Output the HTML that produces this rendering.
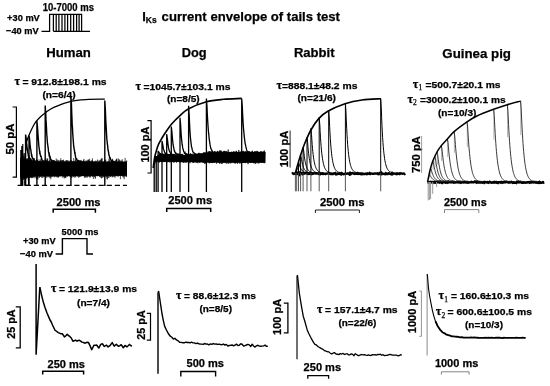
<!DOCTYPE html>
<html><head><meta charset="utf-8"><title>IKs current envelope of tails test</title>
<style>html,body{margin:0;padding:0;background:#fff}svg{display:block}text{font-family:"Liberation Sans",Arial,sans-serif;font-weight:bold;fill:#000}text.ts{font-family:"Liberation Serif","DejaVu Serif",serif;font-weight:bold}text{stroke:#000;stroke-width:0.25px}text.tn{font-family:"Liberation Serif","DejaVu Serif",serif;font-weight:normal}</style>
</head><body>
<svg width="550" height="386" viewBox="0 0 550 386">
<rect width="550" height="386" fill="#fff"/>
<text x="42.7" y="10.9" font-size="10.5" textLength="51.3" lengthAdjust="spacingAndGlyphs" >10-7000 ms</text>
<text x="7.1" y="20.9" font-size="9.6" textLength="32.7" lengthAdjust="spacingAndGlyphs" >+30 mV</text>
<text x="6.0" y="33.5" font-size="9.6" textLength="32.7" lengthAdjust="spacingAndGlyphs" >−40 mV</text>
<path d="M41.5,31.3 H49.6 V14.4 H81.6 V31.3 H90 M53.4,31.3 H81.6 M53.4,14.4 V31.3 M56.2,14.4 V31.3 M58.9,14.4 V31.3 M62,14.4 V31.3 M64.9,14.4 V31.3 M67.6,14.4 V31.3 M70.7,14.4 V31.3 M73.6,14.4 V31.3 M76.6,14.4 V31.3 M79.1,14.4 V31.3" fill="none" stroke="#000" stroke-width="1.25" />
<text x="142.2" y="20.6" font-size="12.8" >I</text>
<text x="145.8" y="23.2" font-size="8.3" textLength="10.8" lengthAdjust="spacingAndGlyphs" >Ks</text>
<text x="161.6" y="20.6" font-size="12.8" textLength="178.4" lengthAdjust="spacingAndGlyphs" >current envelope of tails test</text>
<text x="46.3" y="56.7" font-size="13.2" textLength="44.6" lengthAdjust="spacingAndGlyphs" >Human</text>
<text x="181.8" y="57.4" font-size="13" textLength="24.9" lengthAdjust="spacingAndGlyphs" >Dog</text>
<text x="293.9" y="57.4" font-size="13" textLength="40.7" lengthAdjust="spacingAndGlyphs" >Rabbit</text>
<text x="442.3" y="57.6" font-size="13.2" textLength="68.7" lengthAdjust="spacingAndGlyphs" >Guinea pig</text>
<text x="14.4" y="85.0" font-size="12" class="ts">τ</text>
<text x="22.4" y="85.0" font-size="9.6" textLength="84.2" lengthAdjust="spacingAndGlyphs" >= 912.8±198.1 ms</text>
<text x="42.4" y="98.0" font-size="9.6" textLength="33.2" lengthAdjust="spacingAndGlyphs" >(n=6/4)</text>
<path d="M12.6,107 H16.4 V177.2 H12.6" fill="none" stroke="#000" stroke-width="1.2" />
<text transform="translate(14.0,154.6) rotate(-90)" font-size="11" textLength="31.0" lengthAdjust="spacingAndGlyphs" >50 pA</text>
<path d="M20.50,161.04 L20.83,176.82 L21.25,159.43 L21.58,176.73 L22.01,161.07 L22.50,176.76 L22.97,157.63 L23.36,177.97 L23.71,160.65 L24.18,178.03 L24.59,160.63 L25.09,176.39 L25.49,160.37 L26.02,176.85 L26.40,160.23 L26.92,176.83 L27.50,160.56 L27.85,176.98 L28.18,160.50 L28.73,177.77 L29.23,160.24 L29.77,177.01 L30.22,161.18 L30.71,176.56 L31.24,161.15 L31.56,177.23 L31.92,161.11 L32.27,176.48 L32.69,161.09 L33.16,176.54 L33.69,160.85 L34.11,176.86 L34.68,161.02 L35.06,176.75 L35.53,161.39 L35.95,176.32 L36.52,160.96 L37.02,178.89 L37.54,160.13 L37.96,177.51 L38.45,161.07 L38.81,176.36 L39.14,160.84 L39.55,177.70 L40.03,160.97 L40.45,176.83 L40.99,160.29 L41.33,176.25 L41.74,161.26 L42.06,178.11 L42.51,159.77 L43.09,177.21 L43.60,161.38 L44.12,177.16 L44.65,161.11 L45.23,176.82 L45.76,160.77 L46.21,177.70 L46.54,160.66 L47.04,176.32 L47.47,158.68 L47.89,177.34 L48.26,161.26 L48.82,176.82 L49.27,160.44 L49.76,177.66 L50.29,161.49 L50.81,177.32 L51.35,160.49 L51.92,176.33 L52.28,161.10 L52.81,176.57 L53.35,160.03 L53.81,176.33 L54.13,160.07 L54.70,176.41 L55.25,161.21 L55.64,176.76 L56.11,161.47 L56.68,177.19 L57.11,159.63 L57.68,177.23 L58.14,161.35 L58.50,177.51 L58.86,159.94 L59.26,176.39 L59.73,161.45 L60.11,176.59 L60.64,160.26 L61.20,176.17 L61.68,160.35 L62.11,176.15 L62.56,160.10 L63.13,176.67 L63.59,159.75 L63.94,176.78 L64.28,161.56 L64.80,176.49 L65.16,161.28 L65.71,177.55 L66.09,160.62 L66.67,176.39 L67.03,160.49 L67.40,176.59 L67.91,160.33 L68.23,176.23 L68.71,161.25 L69.24,176.10 L69.58,161.59 L69.97,176.36 L70.40,160.03 L70.75,177.06 L71.22,160.33 L71.65,178.08 L72.14,161.50 L72.47,176.46 L72.91,160.96 L73.30,177.15 L73.75,161.61 L74.08,176.54 L74.48,161.07 L74.93,177.66 L75.34,159.64 L75.80,176.13 L76.25,161.22 L76.68,176.23 L77.22,160.72 L77.80,176.79 L78.34,161.29 L78.75,177.64 L79.08,161.64 L79.42,176.81 L79.97,161.29 L80.36,176.75 L80.72,160.94 L81.30,176.28 L81.68,160.84 L81.99,176.20 L82.44,161.02 L82.75,176.02 L83.09,160.95 L83.47,176.18 L83.93,161.71 L84.48,177.49 L84.88,161.15 L85.37,177.47 L85.93,160.57 L86.28,177.18 L86.73,160.80 L87.21,177.57 L87.70,161.26 L88.12,176.67 L88.66,160.41 L89.16,176.49 L89.47,161.25 L89.93,177.59 L90.27,161.24 L90.78,176.75 L91.29,160.59 L91.74,176.15 L92.26,160.44 L92.64,176.94 L93.04,161.17 L93.54,176.02 L94.03,161.47 L94.47,177.14 L95.03,160.91 L95.35,178.63 L95.89,160.70 L96.26,176.17 L96.63,161.31 L97.20,176.22 L97.74,159.68 L98.12,176.05 L98.56,161.73 L99.00,175.94 L99.35,161.32 L99.67,176.67 L100.21,160.13 L100.77,177.52 L101.18,158.91 L101.60,178.25 L101.98,161.38 L102.38,176.06 L102.76,161.72 L103.17,177.13 L103.73,161.30 L104.30,177.24 L104.81,160.28 L105.32,176.41 L105.72,159.64 L106.16,176.60 L106.56,161.67 L107.05,178.68 L107.51,161.39 L107.88,176.27 L108.33,161.46 L108.77,178.07 L109.14,161.10 L109.52,176.39 L109.98,160.60 L110.41,176.98 L110.83,161.70 L111.40,176.18 L111.86,160.51 L112.24,177.35 L112.67,159.52 L113.22,176.76 L113.72,161.00 L114.04,176.56 L114.60,161.00 L114.99,177.64 L115.34,160.39 L115.85,176.07 L116.37,159.35 L116.75,176.19 L117.24,161.76 L117.73,176.35 L118.07,160.82 L118.49,176.37 L118.97,161.08 L119.54,175.89 L120.10,161.22 L120.67,175.95 L121.07,160.77 L121.50,175.99 L121.99,160.74 L122.42,176.15 L122.79,161.49 L123.16,177.42 L123.56,161.66 L124.08,176.48 L124.65,161.33 L125.08,175.83 L125.65,161.37 L126.23,176.61 L126.56,161.05" fill="none" stroke="#000" stroke-width="0.6" />
<polygon points="20.5,161.3 127.0,162.0 127.0,175.8 20.5,176.3" fill="#000"/>
<path d="M20.50,157.42 L21.08,179.68 L21.65,157.68 L21.98,179.06 L22.38,157.11 L22.70,178.44 L23.04,157.14 L23.42,179.87 L23.85,155.24 L24.26,178.84 L24.82,157.40 L25.35,177.99 L25.92,158.76 L26.43,178.76 L27.01,158.60 L27.39,177.76 L27.71,158.27 L28.27,180.45 L28.72,157.04 L29.29,178.10 L29.74,159.28 L30.10,177.91 L30.62,157.83 L31.03,177.57 L31.36,159.07 L31.88,178.26 L32.29,160.05 L32.84,177.89 L33.18,160.72 L33.69,177.62" fill="none" stroke="#000" stroke-width="0.6" />
<polygon points="20.5,158.0 34.0,161.0 34.0,176.5 20.5,178.5" fill="#000"/>
<path d="M93.4,175.3 V179.0 M92.4,162.0 V158.3 M54.3,175.3 V177.5 M100.0,162.0 V160.2 M49.3,162.0 V158.2 M83.6,162.0 V159.7 M126.2,175.3 V177.0 M107.3,175.3 V179.5 M34.5,162.0 V158.4 M110.6,175.3 V176.4 M54.2,162.0 V160.4 M124.2,175.3 V179.3 M62.3,175.3 V177.7 M50.8,175.3 V179.3 M34.9,175.3 V178.3 M46.4,162.0 V160.5 M45.0,162.0 V159.1 M91.1,162.0 V161.0 M57.7,175.3 V176.9 M56.2,162.0 V158.5 M80.4,162.0 V160.7 M64.7,175.3 V178.3 M33.4,162.0 V158.8 M66.2,162.0 V160.0 M122.2,162.0 V159.2 M60.8,162.0 V158.2 M126.7,162.0 V160.4 M99.0,162.0 V161.0 M116.9,162.0 V158.4 M65.8,175.3 V177.8 M40.7,162.0 V159.2 M90.0,175.3 V176.6 M88.1,162.0 V159.4 M39.0,162.0 V159.3 M119.3,162.0 V159.4 M106.9,175.3 V176.9 M37.0,175.3 V179.4 M73.7,162.0 V158.0 M64.0,175.3 V178.3 M108.9,162.0 V158.5 M46.9,162.0 V158.3 M109.4,162.0 V160.3 M65.2,175.3 V177.5 M36.7,162.0 V158.7 M116.4,162.0 V159.2 M102.0,162.0 V158.3 M36.1,175.3 V178.1 M88.6,162.0 V159.7 M84.0,162.0 V158.9 M70.0,162.0 V160.9 M87.7,162.0 V160.2 M102.6,175.3 V177.8 M42.5,162.0 V160.7 M37.2,162.0 V160.7 M69.5,175.3 V176.4 M89.6,162.0 V158.7 M104.1,175.3 V176.5 M75.9,162.0 V158.0 M38.0,175.3 V179.5 M99.4,175.3 V176.9 M125.1,162.0 V157.9 M118.4,162.0 V158.5 M119.9,162.0 V159.9 M101.9,162.0 V158.1 M52.3,175.3 V176.8 M75.7,175.3 V177.0 M51.1,175.3 V177.3 M27.8,162.0 V160.5 M120.4,175.3 V179.2 M41.4,175.3 V176.7 " fill="none" stroke="#000" stroke-width="0.7" />
<path d="M17.6,185.3 H127" fill="none" stroke="#000" stroke-width="1.2" stroke-dasharray="5.2,2.9"/>
<path d="M25.60,186.00 L25.60,134.50 L26.15,138.18 L26.40,140.12 L26.65,143.60 L26.90,145.26 L27.15,149.34 L27.40,149.19 L27.65,151.34 L27.90,153.30 L28.15,154.06 L28.40,156.34 L28.65,156.25 L28.90,156.14 L29.15,158.62 L29.40,158.29 L29.65,161.17 L29.90,158.94 L30.15,159.65 L30.40,160.40 L30.65,159.91 L30.90,161.46 L31.15,162.24 L31.40,162.66 L31.65,162.01 L31.90,161.77 L32.15,162.94 L32.40,162.99 L32.65,162.09 L32.90,161.97 L33.15,161.85 L33.40,162.63 L33.65,162.52 L33.90,163.15 L34.15,163.41 L34.40,161.91 L34.65,163.06 L34.90,163.05 L35.15,162.55 L35.40,162.95 L35.65,163.84 L35.90,162.90" fill="none" stroke="#000" stroke-width="1.4" />
<path d="M29.00,186.00 L29.00,135.50 L29.55,138.90 L29.80,141.66 L30.05,144.73 L30.30,146.44 L30.55,149.15 L30.80,149.70 L31.05,151.58 L31.30,153.68 L31.55,155.52 L31.80,155.25 L32.05,156.59 L32.30,157.81 L32.55,157.83 L32.80,158.83 L33.05,159.43 L33.30,158.73 L33.55,158.98 L33.80,160.57 L34.05,160.05 L34.30,161.01 L34.55,161.37 L34.80,160.93 L35.05,160.96 L35.30,161.24 L35.55,162.79 L35.80,160.56 L36.05,162.78 L36.30,162.25 L36.55,161.87 L36.80,162.64 L37.05,162.41 L37.30,161.89 L37.55,162.50 L37.80,162.71 L38.05,162.97 L38.30,162.78 L38.55,162.68 L38.80,161.23 L39.05,162.31 L39.30,163.15" fill="none" stroke="#000" stroke-width="1.4" />
<path d="M36.90,186.00 L36.90,121.00 L37.45,126.54 L37.70,130.07 L37.95,134.18 L38.20,137.38 L38.45,140.25 L38.70,144.20 L38.95,146.82 L39.20,148.27 L39.45,150.36 L39.70,152.67 L39.95,152.34 L40.20,154.32 L40.45,155.33 L40.70,156.99 L40.95,156.20 L41.20,156.76 L41.45,158.76 L41.70,158.59 L41.95,159.70 L42.20,160.38 L42.45,160.66 L42.70,161.29 L42.95,161.12 L43.20,161.21 L43.45,160.36 L43.70,162.25 L43.95,160.88 L44.20,161.86 L44.45,162.96 L44.70,161.05 L44.95,162.77 L45.20,161.83 L45.45,162.37 L45.70,161.38 L45.95,161.17 L46.20,162.93 L46.45,164.09 L46.70,163.26 L46.95,162.80 L47.20,162.88" fill="none" stroke="#000" stroke-width="1.4" />
<path d="M45.20,186.00 L45.20,105.50 L45.75,113.74 L46.00,119.89 L46.25,123.86 L46.50,128.36 L46.75,134.50 L47.00,136.64 L47.25,140.57 L47.50,143.76 L47.75,144.86 L48.00,147.21 L48.25,148.51 L48.50,151.93 L48.75,152.50 L49.00,154.47 L49.25,154.10 L49.50,156.47 L49.75,156.27 L50.00,157.47 L50.25,157.38 L50.50,158.69 L50.75,159.82 L51.00,159.62 L51.25,160.02 L51.50,160.89 L51.75,160.65 L52.00,161.45 L52.25,161.41 L52.50,162.14 L52.75,161.46 L53.00,162.00 L53.25,162.16 L53.50,163.19 L53.75,162.53 L54.00,161.62 L54.25,161.62 L54.50,162.47 L54.75,162.30 L55.00,162.05 L55.25,162.30 L55.50,163.24" fill="none" stroke="#000" stroke-width="1.4" />
<path d="M70.90,186.00 L70.90,96.50 L71.45,103.52 L71.70,112.09 L71.95,118.03 L72.20,124.76 L72.45,127.41 L72.70,133.12 L72.95,136.41 L73.20,139.88 L73.45,142.98 L73.70,146.49 L73.95,147.65 L74.20,149.67 L74.45,150.06 L74.70,152.91 L74.95,152.88 L75.20,154.82 L75.45,156.21 L75.70,157.74 L75.95,158.22 L76.20,158.39 L76.45,159.39 L76.70,159.19 L76.95,159.84 L77.20,160.15 L77.45,161.09 L77.70,160.68 L77.95,160.44 L78.20,160.55 L78.45,163.16 L78.70,160.35 L78.95,161.84 L79.20,161.88 L79.45,162.02 L79.70,161.60 L79.95,162.73 L80.20,162.51 L80.45,161.85 L80.70,162.31 L80.95,161.77 L81.20,162.95" fill="none" stroke="#000" stroke-width="1.4" />
<path d="M104.80,186.00 L104.80,100.50 L105.35,109.57 L105.60,116.05 L105.85,121.58 L106.10,126.09 L106.35,130.66 L106.60,134.97 L106.85,139.25 L107.10,141.25 L107.35,143.87 L107.60,145.42 L107.85,148.35 L108.10,150.24 L108.35,151.27 L108.60,152.45 L108.85,154.34 L109.10,155.65 L109.35,155.85 L109.60,157.68 L109.85,157.67 L110.10,158.74 L110.35,160.12 L110.60,159.21 L110.85,159.97 L111.10,160.15 L111.35,160.45 L111.60,161.21 L111.85,160.16 L112.10,161.66 L112.35,160.67 L112.60,161.36 L112.85,162.50 L113.10,160.91 L113.35,163.09 L113.60,163.54 L113.85,163.13 L114.10,162.92 L114.35,162.59 L114.60,162.45 L114.85,164.13 L115.10,161.99" fill="none" stroke="#000" stroke-width="1.4" />
<path d="M20.8,150 V186 M21.8,146 V186 M22.8,144 V186 M24.2,153 V178" fill="none" stroke="#000" stroke-width="1.1" />
<path d="M24.7,176 V185.3 H28.6 V176" fill="none" stroke="#000" stroke-width="1.1" />
<path d="M26.6,141.5 C27.1,140.2 28.3,136.6 29.6,133.7 C30.9,130.8 32.8,126.7 34.4,124.0 C36.0,121.3 37.7,119.6 39.5,117.8 C41.3,116.0 42.7,114.8 45.1,113.0 C47.5,111.2 49.5,109.2 53.8,107.3 C58.1,105.3 65.1,102.6 70.9,101.3 C76.7,100.0 83.2,99.8 88.8,99.4 C94.4,99.1 102.1,99.2 104.8,99.2" fill="none" stroke="#000" stroke-width="1.3" />
<text x="56.5" y="205.7" font-size="11" textLength="44.0" lengthAdjust="spacingAndGlyphs" >2500 ms</text>
<path d="M53.2,212.8 V209.2 H95.4 V212.8" fill="none" stroke="#000" stroke-width="1.5" />
<text x="135.6" y="90.3" font-size="12" class="ts">τ</text>
<text x="143.4" y="90.3" font-size="9.6" textLength="87.2" lengthAdjust="spacingAndGlyphs" >=1045.7±103.1 ms</text>
<text x="167.0" y="102.4" font-size="9.6" textLength="32.6" lengthAdjust="spacingAndGlyphs" >(n=8/5)</text>
<path d="M147.4,120.6 H151.1 V173 H147.4" fill="none" stroke="#000" stroke-width="1.2" />
<text transform="translate(149.0,162.6) rotate(-90)" font-size="11" textLength="36.0" lengthAdjust="spacingAndGlyphs" >100 pA</text>
<path d="M154.40,156.50 L154.74,162.08 L155.20,156.34 L155.56,161.65 L156.00,156.22 L156.32,162.29 L156.63,156.14 L157.12,161.56 L157.57,156.11 L157.89,161.75 L158.29,156.11 L158.65,162.04 L158.96,155.18 L159.26,162.60 L159.72,155.46 L160.04,161.73 L160.42,155.87 L160.89,161.79 L161.28,155.81 L161.70,162.25 L162.09,155.88 L162.55,161.92 L163.04,156.14 L163.49,162.06 L163.87,155.70 L164.31,162.05 L164.76,155.97 L165.10,162.12 L165.48,156.00 L165.98,161.95 L166.35,155.58 L166.87,162.26 L167.33,156.06 L167.74,162.19 L168.19,155.81 L168.62,161.98 L169.13,155.65 L169.58,162.35 L170.09,155.63 L170.38,162.13 L170.77,155.64 L171.13,161.76 L171.64,155.76 L171.97,161.90 L172.28,155.63 L172.75,162.11 L173.09,155.66 L173.45,162.34 L173.85,155.37 L174.26,162.42 L174.74,155.39 L175.11,161.80 L175.39,155.51 L175.74,161.81" fill="none" stroke="#000" stroke-width="0.7" />
<polygon points="154.4,156.5 176.0,156.0 176.0,161.8 154.4,161.5" fill="#000"/>
<path d="M176.00,155.54 L176.44,162.61 L176.73,155.00 L177.23,161.88 L177.66,155.57 L178.17,162.05 L178.48,155.47 L178.95,162.01 L179.42,155.49 L179.91,162.57 L180.41,155.08 L180.89,162.12 L181.35,154.81 L181.84,162.26 L182.15,155.39 L182.45,162.16 L182.85,155.42 L183.33,162.91 L183.75,155.38 L184.23,162.28 L184.53,154.96 L184.96,162.62 L185.47,155.16 L185.98,162.52 L186.27,155.19 L186.70,162.47 L187.09,154.26 L187.56,162.06 L187.97,154.54 L188.32,162.18 L188.67,154.57 L189.18,162.47 L189.54,154.19 L189.96,163.22 L190.45,154.21 L190.74,161.97 L191.24,154.80 L191.68,162.24 L192.11,153.64 L192.56,162.64 L193.00,154.26 L193.46,162.95 L193.96,154.45 L194.33,162.40 L194.67,153.75 L195.05,162.23 L195.55,153.50 L195.84,162.72" fill="none" stroke="#000" stroke-width="0.7" />
<polygon points="176.0,156.0 196.0,154.5 196.0,162.0 176.0,161.8" fill="#000"/>
<path d="M196.00,153.76 L196.28,162.62 L196.80,153.84 L197.18,162.72 L197.49,153.73 L197.94,163.18 L198.43,153.01 L198.71,162.15 L199.04,152.78 L199.49,162.68 L199.92,153.08 L200.31,162.53 L200.76,153.50 L201.20,162.23 L201.65,153.34 L202.14,162.36 L202.56,153.39 L203.00,162.83 L203.43,152.41 L203.81,162.99 L204.28,152.43 L204.63,163.72 L205.11,152.38 L205.54,163.36 L205.89,152.69 L206.38,162.91 L206.88,152.05 L207.23,162.75 L207.65,152.55" fill="none" stroke="#000" stroke-width="0.7" />
<polygon points="196.0,154.5 208.0,152.5 208.0,162.3 196.0,162.0" fill="#000"/>
<path d="M208.00,150.99 L208.49,162.66 L208.83,151.52 L209.33,163.36 L209.63,151.08 L210.09,162.73 L210.43,151.44 L210.76,162.98 L211.22,152.08 L211.69,163.08 L212.03,150.93 L212.43,163.05 L212.86,152.10 L213.30,162.76 L213.72,151.56 L214.01,162.82 L214.38,151.47 L214.70,162.95 L215.06,150.93 L215.55,162.34 L215.96,152.17 L216.47,163.58 L216.95,151.48 L217.27,162.46 L217.56,150.89 L218.07,162.85 L218.37,151.65 L218.88,162.76 L219.29,151.10 L219.67,163.73 L219.98,150.06 L220.27,162.82 L220.64,150.96 L220.93,163.24 L221.38,150.79 L221.84,164.02 L222.28,151.93 L222.59,163.27 L222.93,151.64 L223.27,162.93 L223.71,151.08 L224.00,162.45 L224.33,150.89 L224.65,162.94 L224.95,150.96 L225.34,162.96 L225.81,151.20 L226.15,163.36 L226.56,151.31 L226.94,163.52 L227.28,151.85 L227.68,162.92 L228.18,149.62 L228.62,163.68 L229.01,152.06 L229.38,162.92 L229.90,151.89 L230.40,163.40 L230.75,152.05 L231.11,162.40 L231.39,151.74 L231.77,163.15 L232.11,151.82 L232.57,162.56 L232.90,151.90 L233.30,162.54 L233.63,151.31 L234.05,163.12 L234.34,152.08 L234.64,163.13 L235.00,151.37 L235.28,163.60 L235.67,151.76 L236.15,162.81 L236.47,150.86 L236.86,163.10 L237.17,151.85 L237.53,163.70 L237.90,152.14 L238.41,162.66 L238.81,150.10 L239.14,162.58 L239.45,152.02 L239.90,163.74 L240.18,151.37 L240.63,162.97 L241.12,152.08 L241.52,162.63 L241.86,151.59 L242.28,162.93 L242.60,151.05 L243.08,162.95 L243.45,150.91 L243.83,163.09 L244.29,151.83 L244.68,162.88 L245.15,150.98 L245.44,163.12 L245.95,151.60 L246.39,162.65 L246.79,151.40 L247.08,162.76 L247.59,151.81 L248.06,164.11 L248.56,151.08 L249.00,162.66 L249.41,151.19 L249.81,162.90 L250.32,151.93 L250.63,163.05 L251.14,151.51 L251.55,162.50 L251.86,151.66 L252.21,162.90 L252.51,150.75 L252.93,162.85 L253.25,151.87 L253.68,163.24 L254.04,152.03 L254.41,162.97 L254.69,151.19 L255.10,163.61 L255.45,151.45 L255.77,163.56 L256.16,151.39 L256.61,162.74 L256.95,150.90 L257.31,162.77 L257.75,151.00 L258.15,163.41 L258.61,151.99 L259.06,163.29 L259.37,151.98 L259.79,162.53 L260.31,151.35 L260.79,162.81 L261.17,151.26 L261.52,162.72 L261.93,151.54 L262.41,162.91 L262.80,151.77 L263.22,163.05 L263.52,151.45 L264.00,162.80 L264.33,150.53 L264.74,163.20 L265.25,151.87" fill="none" stroke="#000" stroke-width="0.7" />
<polygon points="208.0,152.3 265.3,152.0 265.3,162.5 208.0,162.3" fill="#000"/>
<path d="M154.20,192.00 L154.20,165.00 L154.80,162.82 L155.10,161.25 L155.40,160.44 L155.70,159.28 L156.00,158.86 L156.30,157.78 L156.60,157.31 L156.90,157.45 L157.20,156.51 L157.50,156.22 L157.80,156.09 L158.10,155.69 L158.40,155.96 L158.70,155.24 L159.00,155.35 L159.30,155.97 L159.60,154.80 L159.90,154.95 L160.20,155.25 L160.50,154.47 L160.80,154.44 L161.10,154.92 L161.40,155.41 L161.70,155.16 L162.00,154.90 L162.30,154.71 L162.60,155.80 L162.90,155.20 L163.20,154.71 L163.50,155.51 L163.80,155.43 L164.10,154.81 L164.40,154.50 L164.70,155.64 L165.00,154.97 L165.30,154.85 L165.60,155.09 L165.90,154.92 L166.20,155.35 L166.50,154.81" fill="none" stroke="#000" stroke-width="1.3" />
<path d="M156.20,192.00 L156.20,158.00 L156.80,157.45 L157.10,157.19 L157.40,157.03 L157.70,156.12 L158.00,155.93 L158.30,156.33 L158.60,155.72 L158.90,155.90 L159.20,155.58 L159.50,155.47 L159.80,155.08 L160.10,155.26 L160.40,155.20 L160.70,154.99 L161.00,155.69 L161.30,154.74 L161.60,154.87 L161.90,155.20 L162.20,155.40 L162.50,154.83 L162.80,154.97 L163.10,154.81 L163.40,154.74 L163.70,155.42 L164.00,155.01 L164.30,154.89 L164.60,155.09 L164.90,155.29 L165.20,155.43 L165.50,155.12 L165.80,155.09 L166.10,155.18 L166.40,155.32 L166.70,155.19 L167.00,154.63 L167.30,155.04 L167.60,154.90 L167.90,155.51 L168.20,155.04 L168.50,154.79" fill="none" stroke="#000" stroke-width="1.3" />
<path d="M158.10,192.00 L158.10,151.00 L158.70,152.15 L159.00,152.21 L159.30,152.95 L159.60,153.19 L159.90,153.67 L160.20,154.12 L160.50,153.79 L160.80,154.00 L161.10,154.61 L161.40,154.38 L161.70,154.62 L162.00,154.94 L162.30,154.45 L162.60,155.07 L162.90,154.72 L163.20,154.67 L163.50,154.71 L163.80,155.56 L164.10,155.10 L164.40,155.09 L164.70,154.73 L165.00,155.40 L165.30,154.63 L165.60,154.83 L165.90,155.36 L166.20,155.32 L166.50,154.89 L166.80,155.20 L167.10,154.92 L167.40,154.62 L167.70,155.30 L168.00,155.04 L168.30,155.25 L168.60,155.24 L168.90,154.75 L169.20,155.06 L169.50,154.78 L169.80,155.13 L170.10,155.25 L170.40,155.31" fill="none" stroke="#000" stroke-width="1.3" />
<path d="M162.00,192.00 L162.00,140.80 L162.60,144.11 L162.90,145.38 L163.20,147.58 L163.50,148.90 L163.80,150.02 L164.10,150.49 L164.40,151.70 L164.70,152.27 L165.00,152.71 L165.30,153.21 L165.60,153.18 L165.90,153.72 L166.20,154.14 L166.50,154.09 L166.80,154.51 L167.10,154.85 L167.40,154.62 L167.70,154.52 L168.00,154.83 L168.30,154.70 L168.60,154.66 L168.90,154.76 L169.20,155.42 L169.50,155.11 L169.80,155.14 L170.10,155.20 L170.40,154.47 L170.70,155.10 L171.00,155.19 L171.30,154.91 L171.60,154.68 L171.90,155.17 L172.20,154.93 L172.50,155.32 L172.80,154.88 L173.10,155.04 L173.40,155.32 L173.70,155.31 L174.00,155.34 L174.30,154.95" fill="none" stroke="#000" stroke-width="1.3" />
<path d="M166.70,192.00 L166.70,134.00 L167.30,138.45 L167.60,140.68 L167.90,143.32 L168.20,145.57 L168.50,147.69 L168.80,148.82 L169.10,150.41 L169.40,151.02 L169.70,151.78 L170.00,151.93 L170.30,152.61 L170.60,153.14 L170.90,153.15 L171.20,153.51 L171.50,153.63 L171.80,154.03 L172.10,154.58 L172.40,154.59 L172.70,154.63 L173.00,154.77 L173.30,154.47 L173.60,154.67 L173.90,154.67 L174.20,154.56 L174.50,154.75 L174.80,154.63 L175.10,154.90 L175.40,155.16 L175.70,155.04 L176.00,154.97 L176.30,155.11 L176.60,154.91 L176.90,154.73 L177.20,154.44 L177.50,155.36 L177.80,155.08 L178.10,154.37 L178.40,155.09 L178.70,154.87 L179.00,154.98" fill="none" stroke="#000" stroke-width="1.3" />
<path d="M171.30,192.00 L171.30,126.50 L171.90,131.74 L172.20,135.71 L172.50,138.96 L172.80,142.01 L173.10,144.76 L173.40,146.16 L173.70,147.58 L174.00,149.25 L174.30,150.87 L174.60,150.89 L174.90,152.18 L175.20,152.48 L175.50,153.02 L175.80,153.68 L176.10,153.33 L176.40,153.82 L176.70,153.97 L177.00,154.39 L177.30,154.41 L177.60,154.56 L177.90,154.81 L178.20,154.59 L178.50,154.77 L178.80,154.61 L179.10,155.20 L179.40,155.09 L179.70,155.39 L180.00,154.46 L180.30,154.71 L180.60,154.92 L180.90,155.26 L181.20,154.84 L181.50,154.71 L181.80,155.54 L182.10,154.98 L182.40,155.02 L182.70,154.74 L183.00,155.55 L183.30,155.15 L183.60,154.92" fill="none" stroke="#000" stroke-width="1.3" />
<path d="M180.00,192.00 L180.00,117.80 L180.60,124.48 L180.90,130.07 L181.20,134.73 L181.50,138.34 L181.80,141.12 L182.10,144.22 L182.40,145.57 L182.70,147.89 L183.00,149.09 L183.30,149.57 L183.60,151.19 L183.90,151.74 L184.20,152.02 L184.50,153.35 L184.80,153.54 L185.10,152.87 L185.40,154.08 L185.70,153.81 L186.00,153.71 L186.30,154.52 L186.60,154.07 L186.90,154.45 L187.20,154.66 L187.50,154.59 L187.80,154.45 L188.10,154.11 L188.40,154.78 L188.70,155.22 L189.00,155.25 L189.30,155.36 L189.60,155.05 L189.90,155.02 L190.20,154.73 L190.50,154.20 L190.80,154.74 L191.10,154.73 L191.40,154.69 L191.70,154.98 L192.00,155.09 L192.30,154.79" fill="none" stroke="#000" stroke-width="1.3" />
<path d="M188.60,192.00 L188.60,105.80 L189.20,114.96 L189.50,122.10 L189.80,128.25 L190.10,133.20 L190.40,137.26 L190.70,140.08 L191.00,142.67 L191.30,145.09 L191.60,147.23 L191.90,147.68 L192.20,149.79 L192.50,150.39 L192.80,151.55 L193.10,152.13 L193.40,152.44 L193.70,152.75 L194.00,153.25 L194.30,153.81 L194.60,153.55 L194.90,154.11 L195.20,154.08 L195.50,154.19 L195.80,154.15 L196.10,154.10 L196.40,154.79 L196.70,154.80 L197.00,154.65 L197.30,154.75 L197.60,155.13 L197.90,154.91 L198.20,155.00 L198.50,154.88 L198.80,155.13 L199.10,154.85 L199.40,154.64 L199.70,155.16 L200.00,155.14 L200.30,154.70 L200.60,155.04 L200.90,155.04" fill="none" stroke="#000" stroke-width="1.3" />
<path d="M206.40,192.00 L206.40,98.50 L207.00,106.47 L207.30,114.08 L207.60,119.04 L207.90,123.99 L208.20,128.19 L208.50,131.86 L208.80,134.41 L209.10,137.85 L209.40,140.30 L209.70,142.07 L210.00,144.17 L210.30,145.80 L210.60,147.31 L210.90,148.75 L211.20,149.08 L211.50,149.61 L211.80,150.26 L212.10,151.60 L212.40,151.56 L212.70,152.19 L213.00,152.80 L213.30,152.96 L213.60,153.26 L213.90,153.54 L214.20,153.10 L214.50,153.80 L214.80,154.20 L215.10,153.78 L215.40,153.83 L215.70,154.54 L216.00,154.38 L216.30,154.66 L216.60,154.05 L216.90,154.64 L217.20,154.44 L217.50,154.97 L217.80,155.29 L218.10,154.69 L218.40,155.10 L218.70,154.59" fill="none" stroke="#000" stroke-width="1.3" />
<path d="M241.70,192.00 L241.70,98.50 L242.30,106.28 L242.60,113.25 L242.90,118.78 L243.20,124.37 L243.50,128.41 L243.80,131.64 L244.10,134.83 L244.40,137.80 L244.70,139.73 L245.00,142.72 L245.30,144.03 L245.60,145.48 L245.90,146.96 L246.20,147.96 L246.50,149.42 L246.80,150.28 L247.10,150.81 L247.40,151.37 L247.70,152.01 L248.00,152.31 L248.30,152.55 L248.60,153.23 L248.90,153.29 L249.20,153.63 L249.50,154.12 L249.80,154.43 L250.10,154.03 L250.40,154.48 L250.70,153.85 L251.00,154.15 L251.30,154.57 L251.60,154.34 L251.90,154.29 L252.20,154.42 L252.50,154.83 L252.80,154.33 L253.10,154.95 L253.40,155.11 L253.70,154.26 L254.00,154.99" fill="none" stroke="#000" stroke-width="1.3" />
<path d="M153.2,168.0 C153.4,166.5 154.0,161.5 154.4,159.0 C154.8,156.5 155.0,155.4 155.7,153.0 C156.4,150.6 157.4,146.9 158.5,144.4 C159.6,141.9 160.7,140.2 162.0,138.0 C163.3,135.8 164.9,133.3 166.5,131.0 C168.1,128.7 169.2,126.8 171.4,124.2 C173.7,121.6 177.1,118.2 180.0,115.6 C182.9,113.0 184.3,111.1 188.7,108.8 C193.1,106.5 200.7,103.4 206.5,101.8 C212.3,100.2 217.8,99.9 223.7,99.3 C229.6,98.7 238.7,98.6 241.7,98.4" fill="none" stroke="#000" stroke-width="1.6" />
<text x="168.2" y="204.4" font-size="11" textLength="44.0" lengthAdjust="spacingAndGlyphs" >2500 ms</text>
<path d="M166.7,212 V208.6 H210.7 V212" fill="none" stroke="#000" stroke-width="1.5" />
<text x="276.4" y="89.0" font-size="12" class="ts">τ</text>
<text x="282.0" y="89.0" font-size="9.6" textLength="75.4" lengthAdjust="spacingAndGlyphs" >=888.1±48.2 ms</text>
<text x="297.4" y="101.4" font-size="9.6" textLength="38.6" lengthAdjust="spacingAndGlyphs" >(n=21/6)</text>
<text transform="translate(288.3,167.3) rotate(-90)" font-size="11" textLength="36.6" lengthAdjust="spacingAndGlyphs" >100 pA</text>
<path d="M290.1,130.5 V167.5" fill="none" stroke="#222" stroke-width="1.0" />
<path d="M292.00,173.95 L292.70,173.28 L293.40,173.86 L294.10,173.57 L294.80,173.89 L295.50,173.97 L296.20,173.86 L296.90,172.80 L297.60,173.93 L298.30,174.29 L299.00,173.32 L299.70,174.58 L300.40,173.56 L301.10,173.23 L301.80,173.26 L302.50,174.19 L303.20,173.89 L303.90,173.47 L304.60,173.51 L305.30,172.92 L306.00,173.33 L306.70,173.20 L307.40,173.76 L308.10,173.60 L308.80,174.01 L309.50,173.76 L310.20,173.65 L310.90,173.90 L311.60,174.19 L312.30,173.56 L313.00,173.75 L313.70,173.52 L314.40,173.41 L315.10,173.38 L315.80,173.52 L316.50,173.26 L317.20,173.62 L317.90,173.56 L318.60,173.80 L319.30,174.01 L320.00,174.37 L320.70,173.54 L321.40,173.65 L322.10,173.87 L322.80,173.50 L323.50,174.06 L324.20,173.94 L324.90,173.70 L325.60,174.11 L326.30,173.46 L327.00,173.62 L327.70,173.55 L328.40,173.62 L329.10,173.24 L329.80,173.66 L330.50,174.01 L331.20,173.87 L331.90,174.04 L332.60,173.87 L333.30,173.99 L334.00,173.37 L334.70,173.57 L335.40,173.13 L336.10,174.50 L336.80,174.41 L337.50,173.67 L338.20,173.54 L338.90,173.87 L339.60,173.39 L340.30,174.12 L341.00,174.48 L341.70,173.14 L342.40,173.47 L343.10,174.10 L343.80,174.16 L344.50,173.94 L345.20,173.79 L345.90,173.66 L346.60,173.74 L347.30,173.50 L348.00,173.56 L348.70,173.53 L349.40,174.22 L350.10,173.04 L350.80,174.03 L351.50,173.19 L352.20,173.21 L352.90,172.98 L353.60,173.40 L354.30,173.85 L355.00,173.55 L355.70,173.69 L356.40,173.38 L357.10,173.75 L357.80,173.17 L358.50,173.78 L359.20,173.54 L359.90,173.30 L360.60,174.11 L361.30,174.23 L362.00,173.52 L362.70,174.16 L363.40,173.83 L364.10,174.06 L364.80,173.96 L365.50,173.76 L366.20,173.54 L366.90,174.17 L367.60,173.46 L368.30,173.69 L369.00,173.93 L369.70,173.07 L370.40,173.92 L371.10,173.55 L371.80,173.62 L372.50,173.87 L373.20,173.72 L373.90,173.77 L374.60,173.49 L375.30,173.43 L376.00,173.60 L376.70,173.57 L377.40,173.38 L378.10,174.14 L378.80,174.26 L379.50,173.18 L380.20,173.57 L380.90,174.01 L381.60,172.90 L382.30,174.02 L383.00,173.73 L383.70,173.94 L384.40,174.04 L385.10,174.14 L385.80,173.25 L386.50,173.92 L387.20,173.75 L387.90,173.92 L388.60,173.22 L389.30,173.39 L390.00,173.95 L390.70,174.07 L391.40,174.27 L392.10,173.14 L392.80,174.14 L393.50,173.59 L394.20,173.61 L394.90,173.58 L395.60,173.91 L396.30,174.07 L397.00,173.41 L397.70,173.91 L398.40,173.76 L399.10,173.45 L399.80,174.00 L400.50,173.39 L401.20,173.54 L401.90,173.68 L402.60,173.73 L403.30,173.42 L404.00,173.55 L404.70,174.08 L405.40,173.75" fill="none" stroke="#000" stroke-width="2.4" />
<path d="M296.7,173 V191.3" fill="none" stroke="#444" stroke-width="0.9" />
<path d="M296.70,173.00 L296.70,168.00 L297.32,168.69 L297.65,169.28 L297.98,169.79 L298.30,170.23 L298.62,170.61 L298.95,170.94 L299.27,171.22 L299.60,171.47 L299.93,171.68 L300.25,171.86 L300.57,172.02 L300.90,172.15 L301.23,172.27 L301.55,172.37 L301.88,172.45 L302.20,172.53 L302.52,172.59 L302.85,172.65 L303.18,172.70 L303.50,172.74 L303.82,172.78 L304.15,172.81 L304.48,172.83 L304.80,172.86 L305.12,172.88 L305.45,172.89 L305.77,172.91 L306.10,172.92 L306.43,172.93 L306.75,172.94 L307.07,172.95 L307.40,172.96 L307.73,172.96 L308.05,172.97 L308.38,172.97 L308.70,172.98 L309.02,172.98 L309.35,172.98 L309.68,172.98 L310.00,172.99" fill="none" stroke="#000" stroke-width="1.0" />
<path d="M298.5,173 V191.3" fill="none" stroke="#444" stroke-width="0.9" />
<path d="M298.50,173.00 L298.50,162.00 L299.12,163.51 L299.45,164.81 L299.78,165.94 L300.10,166.91 L300.43,167.74 L300.75,168.47 L301.07,169.09 L301.40,169.63 L301.73,170.09 L302.05,170.49 L302.38,170.83 L302.70,171.13 L303.03,171.39 L303.35,171.61 L303.68,171.80 L304.00,171.97 L304.32,172.11 L304.65,172.23 L304.98,172.34 L305.30,172.43 L305.62,172.51 L305.95,172.57 L306.28,172.63 L306.60,172.68 L306.93,172.73 L307.25,172.76 L307.57,172.80 L307.90,172.82 L308.23,172.85 L308.55,172.87 L308.88,172.89 L309.20,172.90 L309.53,172.92 L309.85,172.93 L310.18,172.94 L310.50,172.95 L310.82,172.95 L311.15,172.96 L311.48,172.97 L311.80,172.97" fill="none" stroke="#000" stroke-width="1.0" />
<path d="M300.6,173 V191.3" fill="none" stroke="#444" stroke-width="0.9" />
<path d="M300.60,173.00 L300.60,155.00 L301.23,157.47 L301.55,159.60 L301.88,161.44 L302.20,163.03 L302.53,164.40 L302.85,165.58 L303.18,166.60 L303.50,167.48 L303.83,168.24 L304.15,168.89 L304.48,169.46 L304.80,169.94 L305.13,170.36 L305.45,170.72 L305.78,171.04 L306.10,171.31 L306.43,171.54 L306.75,171.74 L307.08,171.91 L307.40,172.06 L307.73,172.19 L308.05,172.30 L308.38,172.40 L308.70,172.48 L309.03,172.55 L309.35,172.61 L309.68,172.67 L310.00,172.71 L310.33,172.75 L310.65,172.79 L310.98,172.82 L311.30,172.84 L311.63,172.86 L311.95,172.88 L312.28,172.90 L312.60,172.91 L312.93,172.92 L313.25,172.93 L313.58,172.94 L313.90,172.95" fill="none" stroke="#000" stroke-width="1.0" />
<path d="M303.1,173 V191.3" fill="none" stroke="#444" stroke-width="0.9" />
<path d="M303.10,173.00 L303.10,147.50 L303.73,151.00 L304.05,154.02 L304.38,156.63 L304.70,158.88 L305.03,160.82 L305.35,162.49 L305.68,163.93 L306.00,165.18 L306.33,166.25 L306.65,167.18 L306.98,167.98 L307.30,168.67 L307.63,169.26 L307.95,169.78 L308.28,170.22 L308.60,170.60 L308.93,170.93 L309.25,171.21 L309.58,171.46 L309.90,171.67 L310.23,171.85 L310.55,172.01 L310.88,172.15 L311.20,172.26 L311.53,172.37 L311.85,172.45 L312.18,172.53 L312.50,172.59 L312.83,172.65 L313.15,172.70 L313.48,172.74 L313.80,172.77 L314.13,172.81 L314.45,172.83 L314.78,172.86 L315.10,172.88 L315.43,172.89 L315.75,172.91 L316.08,172.92 L316.40,172.93" fill="none" stroke="#000" stroke-width="1.0" />
<path d="M307,173 V191.3" fill="none" stroke="#444" stroke-width="0.9" />
<path d="M307.00,173.00 L307.00,137.50 L307.62,142.38 L307.95,146.58 L308.28,150.21 L308.60,153.34 L308.93,156.04 L309.25,158.37 L309.57,160.38 L309.90,162.11 L310.23,163.61 L310.55,164.90 L310.88,166.01 L311.20,166.97 L311.53,167.80 L311.85,168.51 L312.18,169.13 L312.50,169.66 L312.82,170.12 L313.15,170.51 L313.48,170.86 L313.80,171.15 L314.12,171.40 L314.45,171.62 L314.78,171.81 L315.10,171.98 L315.43,172.12 L315.75,172.24 L316.07,172.34 L316.40,172.43 L316.73,172.51 L317.05,172.58 L317.38,172.64 L317.70,172.69 L318.03,172.73 L318.35,172.77 L318.68,172.80 L319.00,172.83 L319.32,172.85 L319.65,172.87 L319.98,172.89 L320.30,172.90" fill="none" stroke="#000" stroke-width="1.0" />
<path d="M310.9,173 V191.3" fill="none" stroke="#444" stroke-width="0.9" />
<path d="M310.90,173.00 L310.90,128.50 L311.52,134.61 L311.85,139.88 L312.18,144.43 L312.50,148.35 L312.82,151.74 L313.15,154.66 L313.47,157.18 L313.80,159.35 L314.12,161.23 L314.45,162.84 L314.77,164.24 L315.10,165.44 L315.43,166.48 L315.75,167.37 L316.07,168.15 L316.40,168.81 L316.72,169.39 L317.05,169.88 L317.38,170.31 L317.70,170.68 L318.02,171.00 L318.35,171.27 L318.68,171.51 L319.00,171.72 L319.32,171.89 L319.65,172.04 L319.97,172.18 L320.30,172.29 L320.62,172.39 L320.95,172.47 L321.27,172.54 L321.60,172.61 L321.93,172.66 L322.25,172.71 L322.57,172.75 L322.90,172.78 L323.22,172.81 L323.55,172.84 L323.88,172.86 L324.20,172.88" fill="none" stroke="#000" stroke-width="1.0" />
<path d="M319.2,173 V191.3" fill="none" stroke="#444" stroke-width="0.9" />
<path d="M319.20,173.00 L319.20,117.30 L319.82,124.95 L320.15,131.55 L320.48,137.24 L320.80,142.15 L321.12,146.39 L321.45,150.04 L321.77,153.20 L322.10,155.92 L322.43,158.26 L322.75,160.29 L323.07,162.03 L323.40,163.54 L323.73,164.84 L324.05,165.96 L324.38,166.93 L324.70,167.76 L325.02,168.48 L325.35,169.10 L325.68,169.64 L326.00,170.10 L326.32,170.50 L326.65,170.84 L326.98,171.14 L327.30,171.39 L327.62,171.61 L327.95,171.80 L328.27,171.97 L328.60,172.11 L328.93,172.23 L329.25,172.34 L329.57,172.43 L329.90,172.51 L330.23,172.57 L330.55,172.63 L330.88,172.68 L331.20,172.73 L331.52,172.76 L331.85,172.80 L332.18,172.82 L332.50,172.85" fill="none" stroke="#000" stroke-width="1.0" />
<path d="M328.7,173 V191.3" fill="none" stroke="#444" stroke-width="0.9" />
<path d="M328.70,173.00 L328.70,110.30 L329.32,118.91 L329.65,126.34 L329.98,132.75 L330.30,138.28 L330.62,143.04 L330.95,147.16 L331.27,150.71 L331.60,153.77 L331.93,156.41 L332.25,158.69 L332.57,160.65 L332.90,162.35 L333.23,163.81 L333.55,165.07 L333.88,166.16 L334.20,167.10 L334.52,167.91 L334.85,168.61 L335.18,169.21 L335.50,169.73 L335.82,170.18 L336.15,170.57 L336.48,170.90 L336.80,171.19 L337.12,171.44 L337.45,171.65 L337.77,171.84 L338.10,172.00 L338.43,172.14 L338.75,172.25 L339.07,172.36 L339.40,172.45 L339.73,172.52 L340.05,172.59 L340.38,172.64 L340.70,172.69 L341.02,172.73 L341.35,172.77 L341.68,172.80 L342.00,172.83" fill="none" stroke="#000" stroke-width="1.0" />
<path d="M345.4,173 V191.3" fill="none" stroke="#444" stroke-width="0.9" />
<path d="M345.40,173.00 L345.40,103.20 L346.02,112.79 L346.35,121.06 L346.68,128.19 L347.00,134.34 L347.32,139.65 L347.65,144.23 L347.97,148.18 L348.30,151.59 L348.62,154.53 L348.95,157.07 L349.27,159.26 L349.60,161.14 L349.93,162.77 L350.25,164.18 L350.57,165.39 L350.90,166.43 L351.22,167.34 L351.55,168.11 L351.88,168.78 L352.20,169.36 L352.52,169.86 L352.85,170.29 L353.18,170.67 L353.50,170.99 L353.82,171.26 L354.15,171.50 L354.47,171.71 L354.80,171.88 L355.12,172.04 L355.45,172.17 L355.77,172.28 L356.10,172.38 L356.43,172.47 L356.75,172.54 L357.07,172.60 L357.40,172.66 L357.72,172.70 L358.05,172.75 L358.38,172.78 L358.70,172.81" fill="none" stroke="#000" stroke-width="1.0" />
<path d="M380.7,173 V191.3" fill="none" stroke="#444" stroke-width="0.9" />
<path d="M380.70,173.00 L380.70,98.70 L381.32,108.90 L381.65,117.71 L381.98,125.30 L382.30,131.85 L382.62,137.50 L382.95,142.38 L383.27,146.58 L383.60,150.21 L383.93,153.34 L384.25,156.04 L384.57,158.37 L384.90,160.38 L385.23,162.11 L385.55,163.61 L385.88,164.90 L386.20,166.01 L386.52,166.97 L386.85,167.80 L387.18,168.51 L387.50,169.13 L387.82,169.66 L388.15,170.12 L388.48,170.51 L388.80,170.86 L389.12,171.15 L389.45,171.40 L389.77,171.62 L390.10,171.81 L390.43,171.98 L390.75,172.12 L391.07,172.24 L391.40,172.34 L391.73,172.43 L392.05,172.51 L392.38,172.58 L392.70,172.64 L393.02,172.69 L393.35,172.73 L393.68,172.77 L394.00,172.80" fill="none" stroke="#000" stroke-width="1.0" />
<path d="M295.4,173 V191.3" fill="none" stroke="#444" stroke-width="0.9" />
<path d="M295.4,173.0 C295.6,172.2 296.2,170.1 296.6,168.5 C297.0,166.9 297.3,165.9 298.0,163.7 C298.7,161.5 299.5,158.3 300.6,155.1 C301.7,151.9 302.7,148.5 304.4,144.3 C306.1,140.1 308.5,134.3 310.9,130.0 C313.3,125.7 315.9,121.7 318.7,118.6 C321.5,115.5 323.4,113.8 327.8,111.3 C332.2,108.8 339.3,105.7 345.0,103.8 C350.7,101.9 356.0,100.8 362.0,100.0 C368.0,99.2 377.8,98.9 381.0,98.7" fill="none" stroke="#000" stroke-width="1.6" />
<text x="320.0" y="206.3" font-size="11" textLength="44.6" lengthAdjust="spacingAndGlyphs" >2500 ms</text>
<path d="M315.4,213 V210 H359.4 V213" fill="none" stroke="#222" stroke-width="1.0" />
<text x="412.8" y="88.0" font-size="12" class="ts">τ</text>
<text x="418.4" y="90.4" font-size="7.5" class="tn">1</text>
<text x="425.6" y="88.0" font-size="9.6" textLength="75.0" lengthAdjust="spacingAndGlyphs" >=500.7±20.1 ms</text>
<text x="407.4" y="103.0" font-size="12" class="ts">τ</text>
<text x="413.0" y="105.4" font-size="7.5" class="tn">2</text>
<text x="420.0" y="103.0" font-size="9.6" textLength="85.6" lengthAdjust="spacingAndGlyphs" >=3000.2±100.1 ms</text>
<text x="438.0" y="116.3" font-size="9.6" textLength="38.4" lengthAdjust="spacingAndGlyphs" >(n=10/3)</text>
<text transform="translate(419.9,173.0) rotate(-90)" font-size="11" textLength="37.0" lengthAdjust="spacingAndGlyphs" >750 pA</text>
<path d="M421.6,136 V173" fill="none" stroke="#888" stroke-width="0.8" />
<path d="M427.40,182.60 L428.10,182.49 L428.80,182.41 L429.50,182.17 L430.20,181.91 L430.90,182.51 L431.60,182.12 L432.30,182.14 L433.00,182.56 L433.70,182.37 L434.40,182.03 L435.10,182.59 L435.80,182.23 L436.50,182.55 L437.20,182.03 L437.90,181.93 L438.60,182.15 L439.30,182.50 L440.00,181.80 L440.70,182.03 L441.40,182.54 L442.10,182.92 L442.80,182.24 L443.50,182.07 L444.20,182.19 L444.90,182.11 L445.60,182.68 L446.30,182.48 L447.00,182.08 L447.70,182.51 L448.40,181.76 L449.10,182.31 L449.80,182.30 L450.50,182.24 L451.20,182.07 L451.90,182.15 L452.60,181.84 L453.30,182.41 L454.00,182.06 L454.70,182.44 L455.40,182.51 L456.10,182.13 L456.80,182.00 L457.50,182.32 L458.20,182.47 L458.90,181.97 L459.60,182.28 L460.30,182.05 L461.00,182.67 L461.70,182.40 L462.40,181.90 L463.10,182.16 L463.80,182.32 L464.50,182.18 L465.20,182.32 L465.90,182.40 L466.60,182.35 L467.30,182.19 L468.00,182.66 L468.70,182.52 L469.40,182.22 L470.10,182.27 L470.80,182.13 L471.50,181.94 L472.20,182.22 L472.90,182.31 L473.60,182.21 L474.30,182.06 L475.00,181.54 L475.70,181.85 L476.40,182.51 L477.10,181.84 L477.80,182.44 L478.50,182.48 L479.20,182.27 L479.90,182.30 L480.60,182.50 L481.30,182.29 L482.00,182.28 L482.70,182.52 L483.40,182.28 L484.10,182.79 L484.80,182.02 L485.50,182.20 L486.20,182.23 L486.90,182.34 L487.60,182.13 L488.30,182.77 L489.00,182.46 L489.70,181.83 L490.40,182.29 L491.10,182.47 L491.80,182.59 L492.50,182.40 L493.20,182.10 L493.90,182.50 L494.60,181.97 L495.30,182.32 L496.00,182.00 L496.70,182.64 L497.40,182.47 L498.10,182.83 L498.80,182.22 L499.50,182.27 L500.20,182.18 L500.90,182.58 L501.60,182.03 L502.30,182.47 L503.00,182.21 L503.70,182.48 L504.40,182.36 L505.10,182.10 L505.80,182.19 L506.50,181.86 L507.20,182.07 L507.90,182.15 L508.60,182.55 L509.30,182.19 L510.00,182.36 L510.70,182.24 L511.40,181.97 L512.10,182.44 L512.80,182.77 L513.50,182.45 L514.20,182.60 L514.90,182.45 L515.60,182.54 L516.30,182.81 L517.00,181.88 L517.70,182.13 L518.40,181.93 L519.10,182.30 L519.80,182.21 L520.50,182.11 L521.20,182.42 L521.90,182.76 L522.60,182.64 L523.30,182.74 L524.00,182.33 L524.70,182.41 L525.40,182.66 L526.10,182.55 L526.80,182.55 L527.50,182.22 L528.20,182.20 L528.90,182.14 L529.60,182.62 L530.30,182.09 L531.00,182.35 L531.70,182.37 L532.40,182.28 L533.10,182.23 L533.80,182.41 L534.50,182.12 L535.20,182.34 L535.90,182.63 L536.60,182.17 L537.30,182.59 L538.00,182.61 L538.70,182.75 L539.40,182.08 L540.10,182.73 L540.80,182.56 L541.50,182.67 L542.20,182.55 L542.90,182.27 L543.60,182.54 L544.30,182.35" fill="none" stroke="#000" stroke-width="2.6" />
<path d="M429.5,173 V177.4" fill="none" stroke="#aaa" stroke-width="0.9" />
<path d="M429.20,174.00 L429.82,174.64 L430.14,175.31 L430.46,175.95 L430.78,176.54 L431.10,177.08 L431.42,177.57 L431.74,178.02 L432.06,178.42 L432.38,178.78 L432.70,179.11 L433.02,179.40 L433.34,179.65 L433.66,179.88 L433.98,180.09 L434.30,180.27 L434.62,180.43 L434.94,180.57 L435.26,180.69 L435.58,180.81 L435.90,180.90 L436.22,180.99 L436.54,181.06 L436.86,181.13 L437.18,181.19 L437.50,181.24 L437.82,181.29 L438.14,181.33 L438.46,181.36 L438.78,181.39 L439.10,181.42 L439.42,181.44 L439.74,181.46 L440.06,181.48 L440.38,181.50 L440.70,181.51 L441.02,181.52 L441.34,181.53 L441.66,181.54 L441.98,181.55 L442.30,181.55 L442.62,181.56 L442.94,181.57 L443.26,181.57 L443.58,181.57 L443.90,181.58 L444.22,181.58 L444.54,181.58 L444.86,181.59 L445.18,181.59 L445.50,181.59" fill="none" stroke="#222" stroke-width="0.9" />
<path d="M430.90000000000003,167.5 V174.2" fill="none" stroke="#aaa" stroke-width="0.9" />
<path d="M430.60,168.50 L431.22,169.61 L431.54,170.76 L431.86,171.86 L432.18,172.88 L432.50,173.81 L432.82,174.66 L433.14,175.43 L433.46,176.12 L433.78,176.74 L434.10,177.30 L434.42,177.80 L434.74,178.24 L435.06,178.64 L435.38,178.99 L435.70,179.30 L436.02,179.58 L436.34,179.82 L436.66,180.04 L436.98,180.23 L437.30,180.40 L437.62,180.55 L437.94,180.68 L438.26,180.79 L438.58,180.89 L438.90,180.98 L439.22,181.06 L439.54,181.13 L439.86,181.19 L440.18,181.24 L440.50,181.29 L440.82,181.33 L441.14,181.36 L441.46,181.39 L441.78,181.42 L442.10,181.44 L442.42,181.46 L442.74,181.48 L443.06,181.50 L443.38,181.51 L443.70,181.52 L444.02,181.53 L444.34,181.54 L444.66,181.55 L444.98,181.56 L445.30,181.56 L445.62,181.57 L445.94,181.57 L446.26,181.57 L446.58,181.58 L446.90,181.58" fill="none" stroke="#222" stroke-width="0.9" />
<path d="M433.1,160 V169.8" fill="none" stroke="#aaa" stroke-width="0.9" />
<path d="M432.80,161.00 L433.42,162.75 L433.74,164.56 L434.06,166.28 L434.38,167.88 L434.70,169.35 L435.02,170.69 L435.34,171.90 L435.66,172.99 L435.98,173.96 L436.30,174.84 L436.62,175.62 L436.94,176.32 L437.26,176.94 L437.58,177.50 L437.90,177.99 L438.22,178.42 L438.54,178.81 L438.86,179.15 L439.18,179.45 L439.50,179.71 L439.82,179.94 L440.14,180.15 L440.46,180.33 L440.78,180.49 L441.10,180.63 L441.42,180.75 L441.74,180.86 L442.06,180.95 L442.38,181.03 L442.70,181.11 L443.02,181.17 L443.34,181.22 L443.66,181.27 L443.98,181.32 L444.30,181.35 L444.62,181.38 L444.94,181.41 L445.26,181.44 L445.58,181.46 L445.90,181.48 L446.22,181.49 L446.54,181.51 L446.86,181.52 L447.18,181.53 L447.50,181.54 L447.82,181.55 L448.14,181.55 L448.46,181.56 L448.78,181.57 L449.10,181.57" fill="none" stroke="#222" stroke-width="0.9" />
<path d="M435.1,155.3 V167.1" fill="none" stroke="#aaa" stroke-width="0.9" />
<path d="M434.80,156.30 L435.42,158.44 L435.74,160.67 L436.06,162.79 L436.38,164.75 L436.70,166.56 L437.02,168.20 L437.34,169.68 L437.66,171.02 L437.98,172.22 L438.30,173.30 L438.62,174.26 L438.94,175.12 L439.26,175.88 L439.58,176.56 L439.90,177.16 L440.22,177.70 L440.54,178.17 L440.86,178.59 L441.18,178.95 L441.50,179.28 L441.82,179.57 L442.14,179.82 L442.46,180.04 L442.78,180.23 L443.10,180.41 L443.42,180.56 L443.74,180.69 L444.06,180.80 L444.38,180.91 L444.70,180.99 L445.02,181.07 L445.34,181.14 L445.66,181.20 L445.98,181.25 L446.30,181.30 L446.62,181.34 L446.94,181.37 L447.26,181.40 L447.58,181.43 L447.90,181.45 L448.22,181.47 L448.54,181.49 L448.86,181.50 L449.18,181.51 L449.50,181.53 L449.82,181.54 L450.14,181.54 L450.46,181.55 L450.78,181.56 L451.10,181.56" fill="none" stroke="#222" stroke-width="0.9" />
<path d="M437.3,151 V164.6" fill="none" stroke="#aaa" stroke-width="0.9" />
<path d="M437.00,152.00 L437.62,154.51 L437.94,157.12 L438.26,159.59 L438.58,161.89 L438.90,164.00 L439.22,165.92 L439.54,167.66 L439.86,169.22 L440.18,170.63 L440.50,171.89 L440.82,173.01 L441.14,174.02 L441.46,174.91 L441.78,175.70 L442.10,176.41 L442.42,177.03 L442.74,177.58 L443.06,178.07 L443.38,178.50 L443.70,178.88 L444.02,179.22 L444.34,179.51 L444.66,179.77 L444.98,180.00 L445.30,180.20 L445.62,180.38 L445.94,180.53 L446.26,180.67 L446.58,180.79 L446.90,180.89 L447.22,180.98 L447.54,181.06 L447.86,181.13 L448.18,181.19 L448.50,181.24 L448.82,181.29 L449.14,181.33 L449.46,181.37 L449.78,181.40 L450.10,181.42 L450.42,181.45 L450.74,181.47 L451.06,181.48 L451.38,181.50 L451.70,181.51 L452.02,181.52 L452.34,181.53 L452.66,181.54 L452.98,181.55 L453.30,181.56" fill="none" stroke="#222" stroke-width="0.9" />
<path d="M441.6,144.6 V160.9" fill="none" stroke="#aaa" stroke-width="0.9" />
<path d="M441.30,145.60 L441.92,148.65 L442.24,151.82 L442.56,154.83 L442.88,157.63 L443.20,160.19 L443.52,162.53 L443.84,164.64 L444.16,166.55 L444.48,168.26 L444.80,169.79 L445.12,171.16 L445.44,172.38 L445.76,173.46 L446.08,174.43 L446.40,175.29 L446.72,176.04 L447.04,176.72 L447.36,177.31 L447.68,177.83 L448.00,178.30 L448.32,178.70 L448.64,179.06 L448.96,179.38 L449.28,179.66 L449.60,179.90 L449.92,180.11 L450.24,180.30 L450.56,180.47 L450.88,180.61 L451.20,180.74 L451.52,180.85 L451.84,180.94 L452.16,181.03 L452.48,181.10 L452.80,181.17 L453.12,181.22 L453.44,181.27 L453.76,181.32 L454.08,181.35 L454.40,181.38 L454.72,181.41 L455.04,181.44 L455.36,181.46 L455.68,181.48 L456.00,181.49 L456.32,181.51 L456.64,181.52 L456.96,181.53 L457.28,181.54 L457.60,181.55" fill="none" stroke="#222" stroke-width="0.9" />
<path d="M447.7,138 V157.1" fill="none" stroke="#aaa" stroke-width="0.9" />
<path d="M447.40,139.00 L448.02,142.61 L448.34,146.36 L448.66,149.93 L448.98,153.24 L449.30,156.27 L449.62,159.03 L449.94,161.53 L450.26,163.79 L450.58,165.81 L450.90,167.62 L451.22,169.24 L451.54,170.69 L451.86,171.97 L452.18,173.11 L452.50,174.13 L452.82,175.03 L453.14,175.82 L453.46,176.52 L453.78,177.14 L454.10,177.69 L454.42,178.17 L454.74,178.60 L455.06,178.97 L455.38,179.30 L455.70,179.59 L456.02,179.84 L456.34,180.06 L456.66,180.26 L456.98,180.43 L457.30,180.58 L457.62,180.71 L457.94,180.82 L458.26,180.92 L458.58,181.01 L458.90,181.09 L459.22,181.15 L459.54,181.21 L459.86,181.26 L460.18,181.31 L460.50,181.35 L460.82,181.38 L461.14,181.41 L461.46,181.43 L461.78,181.46 L462.10,181.47 L462.42,181.49 L462.74,181.51 L463.06,181.52 L463.38,181.53 L463.70,181.54" fill="none" stroke="#222" stroke-width="0.9" />
<path d="M454.40000000000003,130.6 V152.8" fill="none" stroke="#aaa" stroke-width="0.9" />
<path d="M454.10,131.60 L454.72,135.84 L455.04,140.24 L455.36,144.43 L455.68,148.31 L456.00,151.87 L456.32,155.11 L456.64,158.05 L456.96,160.69 L457.28,163.07 L457.60,165.19 L457.92,167.10 L458.24,168.79 L458.56,170.30 L458.88,171.64 L459.20,172.83 L459.52,173.88 L459.84,174.82 L460.16,175.64 L460.48,176.37 L460.80,177.01 L461.12,177.58 L461.44,178.08 L461.76,178.52 L462.08,178.90 L462.40,179.24 L462.72,179.54 L463.04,179.80 L463.36,180.03 L463.68,180.23 L464.00,180.40 L464.32,180.56 L464.64,180.69 L464.96,180.81 L465.28,180.91 L465.60,181.00 L465.92,181.08 L466.24,181.14 L466.56,181.20 L466.88,181.26 L467.20,181.30 L467.52,181.34 L467.84,181.37 L468.16,181.40 L468.48,181.43 L468.80,181.45 L469.12,181.47 L469.44,181.49 L469.76,181.50 L470.08,181.52 L470.40,181.53" fill="none" stroke="#222" stroke-width="0.9" />
<path d="M467.3,120.9 V147.1" fill="none" stroke="#aaa" stroke-width="0.9" />
<path d="M467.00,121.90 L467.62,126.96 L467.94,132.22 L468.26,137.21 L468.58,141.85 L468.90,146.10 L469.22,149.97 L469.54,153.48 L469.86,156.63 L470.18,159.47 L470.50,162.01 L470.82,164.28 L471.14,166.31 L471.46,168.11 L471.78,169.71 L472.10,171.13 L472.42,172.39 L472.74,173.50 L473.06,174.49 L473.38,175.36 L473.70,176.12 L474.02,176.80 L474.34,177.39 L474.66,177.92 L474.98,178.38 L475.30,178.78 L475.62,179.14 L475.94,179.45 L476.26,179.72 L476.58,179.96 L476.90,180.17 L477.22,180.35 L477.54,180.51 L477.86,180.65 L478.18,180.78 L478.50,180.88 L478.82,180.98 L479.14,181.06 L479.46,181.13 L479.78,181.19 L480.10,181.24 L480.42,181.29 L480.74,181.33 L481.06,181.37 L481.38,181.40 L481.70,181.42 L482.02,181.45 L482.34,181.47 L482.66,181.49 L482.98,181.50 L483.30,181.51" fill="none" stroke="#222" stroke-width="0.9" />
<path d="M493.90000000000003,108.3 V139.8" fill="none" stroke="#aaa" stroke-width="0.9" />
<path d="M493.60,109.30 L494.22,115.42 L494.54,121.80 L494.86,127.85 L495.18,133.46 L495.50,138.61 L495.82,143.30 L496.14,147.54 L496.46,151.36 L496.78,154.80 L497.10,157.88 L497.42,160.63 L497.74,163.08 L498.06,165.26 L498.38,167.20 L498.70,168.92 L499.02,170.44 L499.34,171.79 L499.66,172.98 L499.98,174.04 L500.30,174.97 L500.62,175.79 L500.94,176.51 L501.26,177.14 L501.58,177.70 L501.90,178.19 L502.22,178.62 L502.54,178.99 L502.86,179.32 L503.18,179.61 L503.50,179.87 L503.82,180.09 L504.14,180.28 L504.46,180.45 L504.78,180.60 L505.10,180.73 L505.42,180.84 L505.74,180.94 L506.06,181.03 L506.38,181.10 L506.70,181.17 L507.02,181.22 L507.34,181.27 L507.66,181.32 L507.98,181.35 L508.30,181.39 L508.62,181.42 L508.94,181.44 L509.26,181.46 L509.58,181.48 L509.90,181.50" fill="none" stroke="#222" stroke-width="0.9" />
<path d="M507.6,103.7 V137.2" fill="none" stroke="#aaa" stroke-width="0.9" />
<path d="M507.30,104.70 L507.92,111.21 L508.24,117.99 L508.56,124.42 L508.88,130.40 L509.20,135.88 L509.52,140.86 L509.84,145.37 L510.16,149.44 L510.48,153.09 L510.80,156.37 L511.12,159.29 L511.44,161.90 L511.76,164.22 L512.08,166.28 L512.40,168.11 L512.72,169.73 L513.04,171.17 L513.36,172.44 L513.68,173.56 L514.00,174.54 L514.32,175.42 L514.64,176.18 L514.96,176.86 L515.28,177.45 L515.60,177.97 L515.92,178.43 L516.24,178.83 L516.56,179.18 L516.88,179.49 L517.20,179.76 L517.52,179.99 L517.84,180.20 L518.16,180.38 L518.48,180.54 L518.80,180.68 L519.12,180.80 L519.44,180.90 L519.76,180.99 L520.08,181.07 L520.40,181.14 L520.72,181.20 L521.04,181.25 L521.36,181.30 L521.68,181.34 L522.00,181.37 L522.32,181.40 L522.64,181.43 L522.96,181.45 L523.28,181.47 L523.60,181.49" fill="none" stroke="#222" stroke-width="0.9" />
<path d="M520.8,100.1 V135.1" fill="none" stroke="#aaa" stroke-width="0.9" />
<path d="M520.50,101.10 L521.12,107.92 L521.44,115.01 L521.76,121.75 L522.08,128.00 L522.40,133.73 L522.72,138.95 L523.04,143.68 L523.36,147.94 L523.68,151.76 L524.00,155.19 L524.32,158.25 L524.64,160.98 L524.96,163.41 L525.28,165.57 L525.60,167.48 L525.92,169.18 L526.24,170.68 L526.56,172.01 L526.88,173.18 L527.20,174.21 L527.52,175.13 L527.84,175.93 L528.16,176.63 L528.48,177.25 L528.80,177.80 L529.12,178.28 L529.44,178.70 L529.76,179.07 L530.08,179.39 L530.40,179.67 L530.72,179.92 L531.04,180.13 L531.36,180.32 L531.68,180.49 L532.00,180.63 L532.32,180.76 L532.64,180.87 L532.96,180.96 L533.28,181.05 L533.60,181.12 L533.92,181.18 L534.24,181.24 L534.56,181.29 L534.88,181.33 L535.20,181.36 L535.52,181.39 L535.84,181.42 L536.16,181.45 L536.48,181.47 L536.80,181.48" fill="none" stroke="#222" stroke-width="0.9" />
<path d="M428.2,182 V200.4 M429.4,182 V200 M430.6,182 V199 M432.7,182 V193.8 M436.6,182 V187" fill="none" stroke="#999" stroke-width="1.0" />
<path d="M427.6,182.0 C427.8,180.8 428.6,176.9 429.0,175.0 C429.4,173.1 429.4,172.7 430.0,170.4 C430.6,168.1 431.6,164.1 432.8,161.0 C434.0,157.9 435.6,154.6 437.0,152.0 C438.4,149.4 439.6,147.8 441.3,145.6 C443.0,143.4 445.3,141.3 447.4,139.0 C449.5,136.7 450.8,134.4 454.1,131.6 C457.4,128.8 463.3,124.5 467.0,121.9 C470.7,119.3 472.0,118.3 476.4,116.2 C480.8,114.1 488.5,111.2 493.6,109.3 C498.8,107.4 502.8,106.1 507.3,104.7 C511.8,103.3 518.3,101.7 520.5,101.1" fill="none" stroke="#000" stroke-width="1.5" />
<text x="444.0" y="206.2" font-size="11" textLength="42.7" lengthAdjust="spacingAndGlyphs" >2500 ms</text>
<path d="M444.5,213 V209.6 H478.8 V213" fill="none" stroke="#777" stroke-width="0.9" />
<text x="61.6" y="235.0" font-size="9.6" textLength="36.8" lengthAdjust="spacingAndGlyphs" >5000 ms</text>
<text x="23.0" y="243.8" font-size="9.6" textLength="32.6" lengthAdjust="spacingAndGlyphs" >+30 mV</text>
<text x="20.0" y="257.0" font-size="9.6" textLength="33.0" lengthAdjust="spacingAndGlyphs" >−40 mV</text>
<path d="M55.6,254 H62.4 V238.6 H87 V254 H93" fill="none" stroke="#000" stroke-width="1.4" />
<path d="M36.1,264 V354.8 L39.8,287.2" fill="none" stroke="#000" stroke-width="1.5" stroke-linejoin="miter"/>
<path d="M39.80,287.20 L41.40,294.39 L43.10,301.36 L45.00,307.49 L47.00,313.07 L48.90,317.41 L50.00,319.99 L51.25,322.01 L52.50,324.96 L54.90,330.05 L56.55,331.26 L58.20,332.61 L59.57,333.13 L60.93,333.86 L62.30,333.79 L64.40,336.90 L65.80,335.82 L67.20,334.36 L69.60,336.34 L71.25,338.02 L72.90,341.21 L74.15,340.79 L75.40,340.06 L77.00,341.12 L78.25,340.40 L79.50,340.30 L80.70,341.17 L81.90,342.13 L83.55,342.55 L85.20,343.18 L86.85,342.35 L88.50,342.58 L90.10,345.86 L91.70,349.73 L93.90,345.37 L95.25,345.37 L96.60,344.95 L98.80,348.04 L100.70,344.37 L102.40,343.81 L104.30,346.47 L106.50,345.12 L108.10,346.96 L110.20,345.29 L112.20,342.64 L114.20,346.15 L116.30,344.30 L117.50,345.59 L118.70,346.24 L119.95,345.56 L121.20,344.68 L123.30,347.78 L125.00,345.47 L126.90,346.84 L128.15,345.72 L129.40,344.39 L130.60,345.44 L131.80,346.40" fill="none" stroke="#000" stroke-width="1.5" stroke-linejoin="round"/>
<text x="51.0" y="292.1" font-size="12" class="ts">τ</text>
<text x="59.0" y="292.1" font-size="9.6" textLength="78.0" lengthAdjust="spacingAndGlyphs" >= 121.9±13.9 ms</text>
<text x="77.0" y="305.5" font-size="9.6" textLength="33.0" lengthAdjust="spacingAndGlyphs" >(n=7/4)</text>
<path d="M15.8,306.8 H20.2 V347.8 H15.8" fill="none" stroke="#000" stroke-width="1.3" />
<text transform="translate(15.4,338.8) rotate(-90)" font-size="11" textLength="29.4" lengthAdjust="spacingAndGlyphs" >25 pA</text>
<text x="47.6" y="367.6" font-size="11" textLength="37.4" lengthAdjust="spacingAndGlyphs" >250 ms</text>
<path d="M42.7,374.6 V371.3 H83.6 V374.6" fill="none" stroke="#000" stroke-width="1.5" />
<path d="M158,373.8 V292.3" fill="none" stroke="#000" stroke-width="1.4" />
<path d="M158.00,292.30 L158.70,291.61 L159.60,297.75 L160.90,306.31 L162.00,313.74 L163.10,319.28 L164.60,326.13 L166.40,329.99 L168.80,334.31 L170.30,336.20 L171.80,337.21 L173.37,339.04 L174.93,338.31 L176.50,339.96 L178.07,340.82 L179.65,342.27 L181.23,342.41 L182.80,342.72 L184.25,342.79 L185.71,342.15 L187.16,342.49 L188.61,342.33 L190.07,342.87 L191.52,342.22 L192.97,342.88 L194.43,342.89 L195.88,343.58 L197.33,343.07 L198.79,343.75 L200.24,343.95 L201.69,344.08 L203.15,344.37 L204.60,343.49 L206.05,344.13 L207.50,344.03 L208.94,344.79 L210.39,343.95 L211.84,344.44 L213.29,343.53 L214.73,344.17 L216.18,343.98 L217.63,344.43 L219.08,344.13 L220.52,344.51 L221.97,344.72 L223.42,344.05 L224.87,345.12 L226.31,344.39 L227.76,345.98 L229.21,345.49 L230.66,345.26 L232.10,344.99 L233.55,345.76 L235.00,345.20 L236.43,344.12 L237.86,345.51 L239.29,345.31 L240.72,343.80 L242.15,344.24 L243.58,346.09 L245.01,345.55 L246.44,344.99 L247.87,344.40 L249.30,344.88 L250.73,346.44 L252.17,344.26 L253.60,345.94 L255.03,347.09 L256.46,345.81 L257.89,345.24 L259.32,346.14 L260.75,346.24 L262.18,346.14 L263.61,345.86 L265.04,345.10 L266.47,346.37 L267.90,346.10" fill="none" stroke="#000" stroke-width="1.4" stroke-linejoin="round"/>
<path d="M146.8,313.3 H150.5 V340.1 H146.8" fill="none" stroke="#000" stroke-width="1.2" />
<text transform="translate(145.0,339.7) rotate(-90)" font-size="11" textLength="29.5" lengthAdjust="spacingAndGlyphs" >25 pA</text>
<text x="176.0" y="299.1" font-size="12" class="ts">τ</text>
<text x="184.0" y="299.1" font-size="9.6" textLength="72.0" lengthAdjust="spacingAndGlyphs" >= 88.6±12.3 ms</text>
<text x="199.4" y="312.4" font-size="9.6" textLength="32.6" lengthAdjust="spacingAndGlyphs" >(n=8/5)</text>
<text x="186.5" y="366.6" font-size="11" textLength="37.5" lengthAdjust="spacingAndGlyphs" >500 ms</text>
<path d="M180.8,376.5 V371.5 H215.6 V376.5" fill="none" stroke="#000" stroke-width="1.4" />
<path d="M297,359.3 V275.4" fill="none" stroke="#111" stroke-width="1.2" />
<path d="M297.00,275.40 L297.50,275.51 L298.40,284.18 L299.40,293.72 L300.70,301.57 L302.00,309.37 L303.30,316.43 L304.60,320.48 L307.20,329.92 L309.00,334.04 L311.10,338.07 L313.50,342.31 L314.90,344.39 L316.30,344.92 L318.03,346.42 L319.77,347.69 L321.50,348.63 L323.00,349.36 L324.50,350.71 L326.00,351.22 L327.45,351.75 L328.90,351.87 L330.35,353.25 L331.80,354.03 L333.22,352.91 L334.64,352.76 L336.05,354.03 L337.47,354.24 L338.89,354.62 L340.31,353.57 L341.73,354.03 L343.15,353.40 L344.56,354.51 L345.98,353.93 L347.40,353.88 L348.71,354.93 L350.03,354.82 L351.34,353.83 L352.66,354.35 L353.97,355.71 L355.29,353.72 L356.60,354.53 L357.91,355.58 L359.23,355.51 L360.54,354.87 L361.86,354.50 L363.17,354.99 L364.49,354.59 L365.80,355.02 L367.11,355.33 L368.43,354.95 L369.74,355.41 L371.06,355.48 L372.37,354.61 L373.69,354.88 L375.00,354.59 L376.34,355.17 L377.68,354.29 L379.02,354.62 L380.36,354.13 L381.70,355.25 L383.04,354.68 L384.38,355.59 L385.72,355.40 L387.06,355.29 L388.40,354.77 L389.74,354.45 L391.08,354.67 L392.42,355.14 L393.76,355.10 L395.10,355.07 L396.44,355.17 L397.78,355.76 L399.12,355.67 L400.46,354.69 L401.80,355.20" fill="none" stroke="#000" stroke-width="1.3" stroke-linejoin="round"/>
<path d="M283.8,303.1 H287.9 V332.8 H283.8" fill="none" stroke="#000" stroke-width="1.3" />
<text transform="translate(280.8,335.0) rotate(-90)" font-size="11" textLength="36.2" lengthAdjust="spacingAndGlyphs" >100 pA</text>
<text x="317.0" y="312.5" font-size="12" class="ts">τ</text>
<text x="325.0" y="312.5" font-size="9.6" textLength="72.6" lengthAdjust="spacingAndGlyphs" >= 157.1±4.7 ms</text>
<text x="338.4" y="325.9" font-size="9.6" textLength="38.0" lengthAdjust="spacingAndGlyphs" >(n=22/6)</text>
<text x="303.6" y="370.5" font-size="11" textLength="37.5" lengthAdjust="spacingAndGlyphs" >250 ms</text>
<path d="M307.8,378.8 V375.7 H328.6 V378.8" fill="none" stroke="#000" stroke-width="1.3" />
<path d="M427.1,274 V355.5" fill="none" stroke="#888" stroke-width="1.0" />
<path d="M427.30,274.10 L427.90,281.00 L428.50,288.30 L429.70,296.50 L431.10,303.90 L432.40,310.30 L433.70,315.60 L435.50,321.30 L436.55,323.60 L437.60,325.90" fill="none" stroke="#000" stroke-width="1.1" stroke-linejoin="round"/>
<path d="M435.50,321.30 L437.60,325.94 L440.00,329.58 L442.80,332.55 L444.65,333.36 L446.50,334.65 L448.30,335.18 L450.10,335.69 L451.90,336.29 L453.51,336.44 L455.12,336.65 L456.74,336.73 L458.35,336.92 L459.96,337.36 L461.57,337.23 L463.19,337.49 L464.80,337.71 L466.38,337.52 L467.95,337.70 L469.53,337.58 L471.10,337.40 L472.68,337.66 L474.25,337.38 L475.82,337.67 L477.40,337.77 L478.98,337.89 L480.55,337.79 L482.12,337.84 L483.70,337.81 L485.27,337.76 L486.85,337.88 L488.43,337.75 L490.00,337.83 L491.55,337.73 L493.10,337.78 L494.66,337.85 L496.21,337.63 L497.76,337.76 L499.31,337.73 L500.87,337.82 L502.42,338.03 L503.97,337.75 L505.52,337.82 L507.07,337.81 L508.63,337.78 L510.18,337.78 L511.73,337.95 L513.28,337.84 L514.83,337.79 L516.39,337.75 L517.94,337.79 L519.49,337.97 L521.04,337.79 L522.60,337.70 L524.15,337.80 L525.70,337.90" fill="none" stroke="#000" stroke-width="1.8" stroke-linejoin="round"/>
<path d="M419.3,291 H421.4 V336.3 H419.3" fill="none" stroke="#777" stroke-width="0.8" />
<text transform="translate(415.6,333.2) rotate(-90)" font-size="11.5" textLength="42.4" lengthAdjust="spacingAndGlyphs" >1000 pA</text>
<text x="438.6" y="299.3" font-size="12" class="ts">τ</text>
<text x="444.2" y="301.7" font-size="7.5" class="tn">1</text>
<text x="451.0" y="299.3" font-size="9.6" textLength="78.0" lengthAdjust="spacingAndGlyphs" >= 160.6±10.3 ms</text>
<text x="435.8" y="315.2" font-size="12" class="ts">τ</text>
<text x="441.4" y="317.6" font-size="7.5" class="tn">2</text>
<text x="447.6" y="315.2" font-size="9.6" textLength="84.4" lengthAdjust="spacingAndGlyphs" >= 600.6±100.5 ms</text>
<text x="465.0" y="328.0" font-size="9.6" textLength="38.0" lengthAdjust="spacingAndGlyphs" >(n=10/3)</text>
<text x="434.9" y="367.0" font-size="11" textLength="43.4" lengthAdjust="spacingAndGlyphs" >1000 ms</text>
<path d="M441.4,374.6 V371.8 H469.1 V374.6" fill="none" stroke="#777" stroke-width="0.9" />
</svg>
</body></html>
